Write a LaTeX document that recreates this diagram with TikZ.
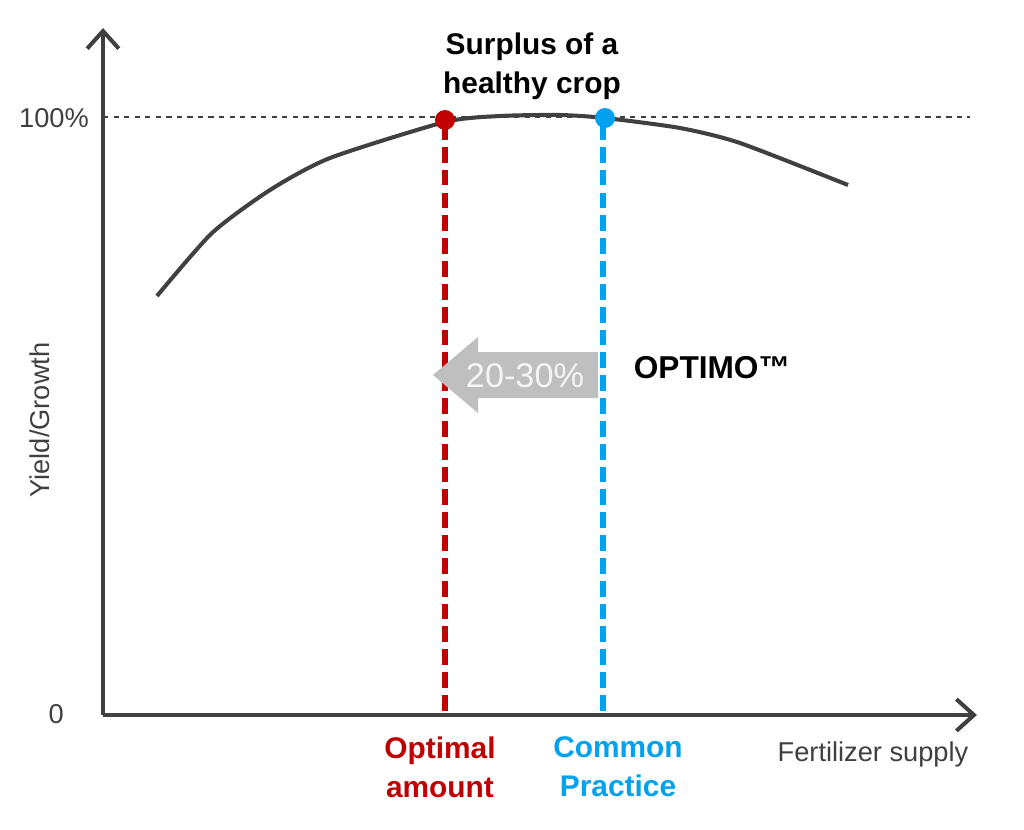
\documentclass[tikz,border=0pt]{standalone}
\usepackage{fontspec}
\setmainfont{Liberation Sans}
\usetikzlibrary{arrows.meta}
\definecolor{axis}{HTML}{404040}
\definecolor{optred}{HTML}{C00000}
\definecolor{optblue}{HTML}{00A2F0}
\definecolor{arrgray}{HTML}{BFBFBF}
\begin{document}
\begin{tikzpicture}[x=0.02cm,y=-0.02cm,
  ax/.style={line width=2.8pt, color=axis, -{Straight Barb[length=10pt,width=18pt,line width=2.3pt]}},
  vline/.style={line width=6pt*0.567, dash pattern=on 9pt off 4pt},
  lab/.style={font=\fontsize{15.5}{18}\selectfont, text=axis},
  blab/.style={font=\fontsize{17}{22}\selectfont\bfseries, align=center}]
\useasboundingbox (0,0) rectangle (1024,829);
\coordinate (o) at (103,715);
\coordinate (ytop) at (103,28);
\coordinate (xend) at (977,715);
\coordinate (h0) at (103,117);
\coordinate (h1) at (970,117);
\draw[axis, line width=1.1pt, dash pattern=on 3pt off 3pt] (h0) -- (h1);
\draw[axis, line width=2.3pt, line join=round]
 plot[smooth, tension=0.4] coordinates {(157,296) (212,233) (270,190) (330,158) (445,122) (500,116) (560,115) (605,118) (680,128) (740,143) (848,185)};
\draw[vline, optred] (445,124) -- (445,712);
\draw[vline, optblue] (603,124) -- (603,712);
\node[circle, fill=optred, minimum size=20*0.02cm, inner sep=0] (dr) at (445,120) {};
\node[circle, fill=optblue, minimum size=20*0.02cm, inner sep=0] (db) at (605,118) {};
\draw[ax] (o) -- (ytop);
\draw[ax] (o) -- (xend);
\fill[arrgray] (598,352) -- (478,352) -- (478,337) -- (433,375) -- (478,413) -- (478,398) -- (598,398) -- cycle;
\node[font=\fontsize{19.5}{22}\selectfont, text=white!92!gray] (pct) at (525,376) {20-30\%};
\node[font=\fontsize{18}{20}\selectfont\bfseries] (opt) at (712,368) {OPTIMO™};
\node[blab] (sur) at (532,66) {Surplus of a\\healthy crop};
\node[lab, anchor=east] (l100) at (95,118) {100\%};
\node[lab, anchor=east] (l0) at (70,714) {0};
\node[lab, rotate=90] (yl) at (40,420) {Yield/Growth};
\node[lab] (xl) at (873,754) {Fertilizer supply};
\node[blab, text=optred] (oa) at (440,767) {Optimal\\amount};
\node[blab, text=optblue] (cp) at (618,767) {Common\\Practice};
\end{tikzpicture}
\end{document}
